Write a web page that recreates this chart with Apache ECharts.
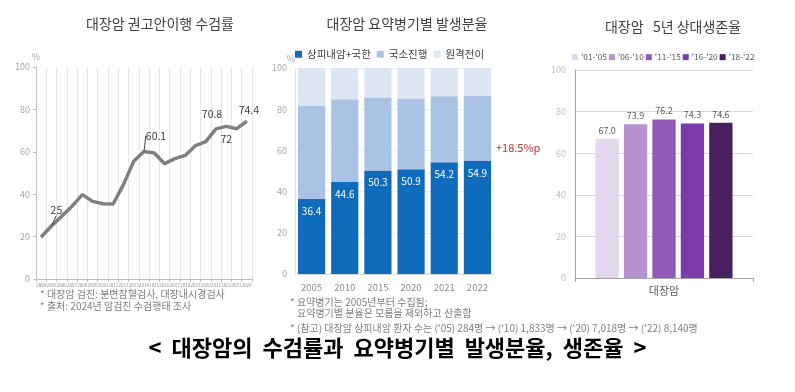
<!DOCTYPE html>
<html><head><meta charset="utf-8">
<script src="https://cdn.jsdelivr.net/npm/echarts@6/dist/echarts.min.js"></script>
<style>html,body{margin:0;padding:0;background:#fff}#c{width:795px;height:392px}</style>
</head><body><div id="c"></div>
<script>
// ---- data ----
const screenYears = ['2004','2005','2006','2007','2008','2009','2010','2011','2012','2013','2014','2015','2016','2017','2018','2019','2020','2021','2022','2023','2024'];
const screenRate = [19.8, 25, 29.6, 34.3, 39.8, 36.6, 35.5, 35.4, 44.5, 55.5, 60.1, 59.4, 54.4, 56.8, 58.3, 62.9, 64.8, 70.8, 72, 70.9, 74.4];
const screenLabeled = {'2005':'25','2014':'60.1','2021':'70.8','2022':'72','2024':'74.4'};
const screenLeader = ['2005', '2014'];

const stageYears = ['2005','2010','2015','2020','2021','2022'];
const stageNames = ['상피내암+국한','국소진행','원격전이'];
const localized = [36.4, 44.6, 50.3, 50.9, 54.2, 54.9];
const regional = [45.1, 40.2, 35.4, 34.3, 32.1, 31.7];
const distant = [18.5, 15.2, 14.3, 14.8, 13.7, 13.4];

const survivalCategory = ['대장암'];
const survivalPeriods = ["'01-'05", "'06-'10", "'11-'15", "'16-'20", "'18-'22"];
const survivalValues = [67.0, 73.9, 76.2, 74.3, 74.6];

// ---- styles ----
const FONT = "'Noto Sans CJK KR', 'Noto Sans', sans-serif";
const stageColors = ['#0f6cbd', '#aac2e4', '#dde7f4'];
const survColors = ['#e3d7ee', '#b892cf', '#9259b9', '#7b3aa9', '#47205f'];
const gray = '#a6a6a6';

const chart = echarts.init(document.getElementById('c'), null, {renderer: 'canvas'});

const survSeries = survivalPeriods.map((p, i) => ({
  type: 'bar', name: p, xAxisIndex: 2, yAxisIndex: 2,
  data: [survivalValues[i]],
  barGap: '22%', barCategoryGap: '23%',
  itemStyle: {color: survColors[i]},
  label: {show: true, position: 'top', distance: 4, fontSize: 9, color: '#595959',
          formatter: q => q.value.toFixed(1)}
}));

const stageSeries = [localized, regional, distant].map((arr, i) => ({
  type: 'bar', name: stageNames[i], stack: 's', xAxisIndex: 1, yAxisIndex: 1,
  data: arr, barWidth: '82%',
  itemStyle: {color: stageColors[i]},
  label: i === 0 ? {show: true, position: 'insideTop', distance: 7, color: '#fff', fontSize: 10} : {show: false}
}));

const lineData = screenRate.map((v, i) => {
  const y = screenYears[i];
  const t = screenLabeled[y];
  if (!t) return v;
  return {value: v, label: {show: true, formatter: t},
          labelLine: {show: screenLeader.includes(y), lineStyle: {color: '#404040', width: 1}}};
});

chart.setOption({
  animation: false,
  textStyle: {fontFamily: FONT},
  title: [
    {text: '대장암 권고안이행 수검률', left: 155, top: 12, textAlign: 'center',
     textStyle: {fontSize: 14, fontWeight: 'normal', color: '#404040', fontFamily: FONT}},
    {text: '대장암 요약병기별 발생분율', left: 402, top: 12, textAlign: 'center',
     textStyle: {fontSize: 14, fontWeight: 'normal', color: '#404040', fontFamily: FONT}},
    {text: '대장암   5년 상대생존율', left: 668, top: 15, textAlign: 'center',
     textStyle: {fontSize: 14, fontWeight: 'normal', color: '#404040', fontFamily: FONT}}
  ],
  legend: [
    {data: stageNames, left: 290, top: 44, icon: 'rect', itemWidth: 7, itemHeight: 7, itemGap: 6,
     textStyle: {fontSize: 10.5, color: '#404040', fontFamily: FONT}, selectedMode: false},
    {data: survivalPeriods, left: 567, top: 48, width: 228, icon: 'rect', itemWidth: 6, itemHeight: 6, itemGap: 2,
     textStyle: {fontSize: 8.3, color: '#595959', fontFamily: FONT, padding: [0, 0, 0, -2]}, selectedMode: false}
  ],
  grid: [
    {left: 36, top: 67, width: 216, height: 212},
    {left: 295, top: 68, width: 199, height: 206},
    {left: 575, top: 70, width: 178, height: 208}
  ],
  xAxis: [
    {type: 'category', gridIndex: 0, data: screenYears, boundaryGap: true,
     axisLine: {lineStyle: {color: '#bfbfbf'}}, axisTick: {show: true, length: 3, lineStyle: {color: '#bfbfbf'}},
     splitLine: {show: true, lineStyle: {color: '#e6e6e6'}},
     axisLabel: {interval: 0, fontSize: 4.5, color: '#8c8c8c', margin: 4}},
    {type: 'category', gridIndex: 1, data: stageYears,
     axisLine: {lineStyle: {color: '#d9d9d9'}}, axisTick: {show: false},
     axisLabel: {fontSize: 9.5, color: '#8c8c8c', margin: 9}},
    {type: 'category', gridIndex: 2, data: survivalCategory,
     axisLine: {lineStyle: {color: '#a6a6a6'}}, axisTick: {show: true, length: 4, lineStyle: {color: '#a6a6a6'}},
     axisLabel: {fontSize: 11, color: '#595959', margin: 7}}
  ],
  yAxis: [
    {type: 'value', gridIndex: 0, min: 0, max: 100, interval: 20,
     name: '%', nameGap: 6, nameTextStyle: {color: gray, fontSize: 9},
     axisLine: {show: true, lineStyle: {color: '#bfbfbf'}}, axisTick: {show: true, length: 3, lineStyle: {color: '#bfbfbf'}},
     splitLine: {show: false}, axisLabel: {fontSize: 9, color: gray, margin: 6}},
    {type: 'value', gridIndex: 1, min: 0, max: 100, interval: 20,
     name: '%', nameGap: 5, nameTextStyle: {color: gray, fontSize: 9, align: 'right'},
     axisLine: {show: true, lineStyle: {color: '#e3e3e3'}}, axisTick: {show: false},
     splitLine: {show: true, lineStyle: {color: '#eeeeee'}}, axisLabel: {fontSize: 9, color: gray, margin: 8}},
    {type: 'value', gridIndex: 2, min: 0, max: 100, interval: 20,
     axisLine: {show: true, lineStyle: {color: '#a6a6a6'}}, axisTick: {show: false},
     splitLine: {show: true, lineStyle: {color: '#d9d9d9'}}, axisLabel: {fontSize: 9, color: '#bfbfbf', margin: 9}}
  ],
  series: [
    {type: 'line', xAxisIndex: 0, yAxisIndex: 0, data: lineData, symbol: 'circle', symbolSize: 1, showSymbol: true,
     lineStyle: {color: '#7f7f7f', width: 3.5}, itemStyle: {color: '#7f7f7f'},
     label: {show: false, position: 'top', distance: 6, fontSize: 10.5, color: '#404040'},
     labelLine: {show: false},
     labelLayout: function (p) {
       const i = p.dataIndex;
       if (i === 1) return {dx: 5, dy: -4};
       if (i === 10) return {dx: 12, dy: -4};
       if (i === 18) return {dy: 24};
       if (i === 17) return {dx: -4, dy: -3};
       if (i === 20) return {dx: 2, dy: 0};
       return {};
     }},
    ...stageSeries,
    ...survSeries
  ],
  graphic: [
    {type: 'text', left: 496, top: 142, style: {text: '+18.5%p', fill: '#b0363a', font: '11px ' + FONT}},
    {type: 'text', left: 40, top: 289, style: {text: '* 대장암 검진: 분변잠혈검사, 대장내시경검사', fill: '#7f7f7f', font: '10px ' + FONT}},
    {type: 'text', left: 40, top: 301, style: {text: '* 출처: 2024년 암검진 수검행태 조사', fill: '#7f7f7f', font: '10px ' + FONT}},
    {type: 'text', left: 290, top: 297, style: {text: '* 요약병기는 2005년부터 수집됨;', fill: '#7f7f7f', font: '10px ' + FONT}},
    {type: 'text', left: 297, top: 308, style: {text: '요약병기별 분율은 모름을 제외하고 산출함', fill: '#7f7f7f', font: '10px ' + FONT}},
    {type: 'text', left: 290, top: 323, style: {text: "* (참고) 대장암 상피내암 환자 수는 ('05) 284명 → ('10) 1,833명 → ('20) 7,018명 → ('22) 8,140명", fill: '#7f7f7f', font: '10px ' + FONT}},
    {type: 'text', left: 'center', top: 337, style: {text: '<  대장암의  수검률과  요약병기별  발생분율,  생존율  >', fill: '#000', font: 'bold 22px ' + FONT}}
  ]
});
</script></body></html>
